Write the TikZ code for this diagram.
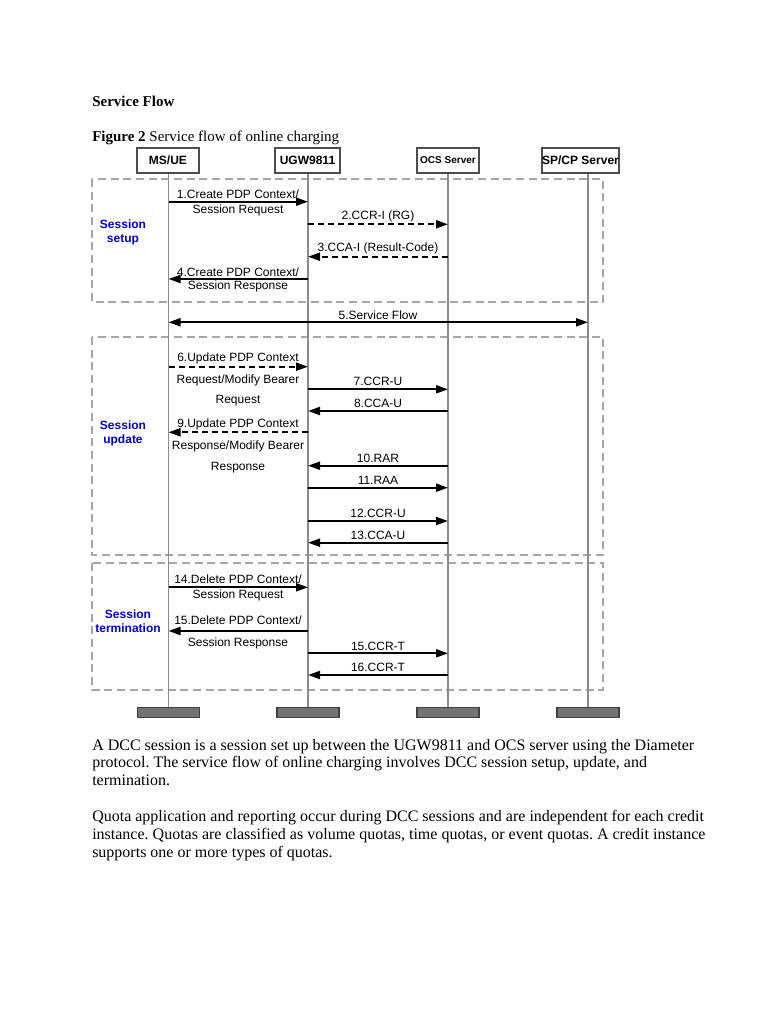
\documentclass[tikz,border=0pt]{standalone}
\usepackage{fontspec}
\setmainfont{Liberation Serif}
\setsansfont{Liberation Sans}
\usetikzlibrary{arrows.meta, positioning}
\frenchspacing

\begin{document}
\begin{tikzpicture}[x=0.75pt, y=-0.75pt,
    actor/.style={draw=black!70, line width=1.1pt, fill=white, minimum height=18.75pt, inner sep=0pt, font=\sffamily\bfseries\fontsize{9}{10}\selectfont},
    foot/.style={draw=black!75, fill=black!55, line width=0.8pt, minimum width=46.5pt, minimum height=7.5pt, inner sep=0pt},
    life/.style={draw=black!45, line width=1.1pt},
    frame/.style={draw=black!35, line width=1.1pt, dash pattern=on 6pt off 3.5pt},
    msg/.style={line width=1.5pt, -{Triangle[length=9pt,width=6pt]}},
    dmsg/.style={msg, dash pattern=on 4.5pt off 3pt},
    lbl/.style={font=\sffamily\fontsize{9}{10}\selectfont, inner sep=0pt, anchor=base},
    phase/.style={font=\sffamily\bfseries\fontsize{9}{10.5}\selectfont, text=blue!80!black, align=center, inner sep=0pt},
    body/.style={font=\fontsize{12}{14}\selectfont, anchor=base west, inner sep=0pt}]

\useasboundingbox[fill=white] (0,0) rectangle (768,1024);

\node[body, font=\bfseries\fontsize{11.25}{13}\selectfont] (title) at (92,106) {Service Flow};
\node[body, font=\fontsize{11.25}{13}\selectfont] (caption) at (92,142) {\textbf{Figure 2} Service flow of online charging};

\node[actor, minimum width=46.5pt] (ms) at (168,160.5) {MS/UE};
\node[actor, minimum width=48.75pt] (ugw) at (307.5,160.5) {UGW9811};
\node[actor, minimum width=46.5pt, font=\sffamily\bfseries\fontsize{7.5}{9}\selectfont] (ocs) at (448,160.5) {OCS Server};
\node[actor, minimum width=57.75pt] (sp) at (580.5,160.5) {SP/CP Server};

\node[foot] (msf) at (168.5,712.5) {};
\node[foot] (ugwf) at (308,712.5) {};
\node[foot] (ocsf) at (448,712.5) {};
\node[foot] (spf) at (588,712.5) {};

\draw[frame] (92,179) rectangle (603,302);
\draw[frame] (92,337) rectangle (603,555);
\draw[frame] (92,563) rectangle (603,690);

\draw[life] (msf.north |- ms.south) -- (msf.north);
\draw[life] (ugwf.north |- ugw.south) -- (ugwf.north);
\draw[life] (ocsf.north |- ocs.south) -- (ocsf.north);
\draw[life] (spf.north |- sp.south) -- (spf.north);

\node[phase] (setup) at (123,232) {Session\\setup};
\node[phase] (update) at (123,433) {Session\\update};
\node[phase] (term) at (128,621) {Session\\termination};

\draw[msg] (msf |- 0,201.7) -- (ugwf |- 0,201.7);
\draw[dmsg] (ugwf |- 0,224.3) -- (ocsf |- 0,224.3);
\draw[dmsg] (ocsf |- 0,256.7) -- (ugwf |- 0,256.7);
\draw[msg] (ugwf |- 0,279) -- (msf |- 0,279);
\draw[msg, {Triangle[length=9pt,width=6pt]}-{Triangle[length=9pt,width=6pt]}] (msf |- 0,322.3) -- (spf |- 0,322.3);
\draw[dmsg] (msf |- 0,366.7) -- (ugwf |- 0,366.7);
\draw[msg] (ugwf |- 0,389.3) -- (ocsf |- 0,389.3);
\draw[msg] (ocsf |- 0,411) -- (ugwf |- 0,411);
\draw[dmsg] (ugwf |- 0,432.3) -- (msf |- 0,432.3);
\draw[msg] (ocsf |- 0,465.7) -- (ugwf |- 0,465.7);
\draw[msg] (ugwf |- 0,487.7) -- (ocsf |- 0,487.7);
\draw[msg] (ugwf |- 0,521) -- (ocsf |- 0,521);
\draw[msg] (ocsf |- 0,542.7) -- (ugwf |- 0,542.7);
\draw[msg] (msf |- 0,587.3) -- (ugwf |- 0,587.3);
\draw[msg] (ugwf |- 0,631) -- (msf |- 0,631);
\draw[msg] (ugwf |- 0,653.3) -- (ocsf |- 0,653.3);
\draw[msg] (ocsf |- 0,675) -- (ugwf |- 0,675);

\node[lbl] (m1) at (238,198.5) {1.Create PDP Context/};
\node[lbl] (m1b) at (238,213) {Session Request};
\node[lbl] (m2) at (378,219.5) {2.CCR-I (RG)};
\node[lbl] (m3) at (378,251) {3.CCA-I (Result-Code)};
\node[lbl] (m4) at (238,276) {4.Create PDP Context/};
\node[lbl] (m4b) at (238,289.5) {Session Response};
\node[lbl] (m5) at (378,319.5) {5.Service Flow};
\node[lbl] (m6) at (238,361.5) {6.Update PDP Context};
\node[lbl] (m6b) at (238,383) {Request/Modify Bearer};
\node[lbl] (m6c) at (238,403.5) {Request};
\node[lbl] (m7) at (378,385) {7.CCR-U};
\node[lbl] (m8) at (378,407) {8.CCA-U};
\node[lbl] (m9) at (238,427.5) {9.Update PDP Context};
\node[lbl] (m9b) at (238,449) {Response/Modify Bearer};
\node[lbl] (m9c) at (238,470) {Response};
\node[lbl] (m10) at (378,462.5) {10.RAR};
\node[lbl] (m11) at (378,484.5) {11.RAA};
\node[lbl] (m12) at (378,517) {12.CCR-U};
\node[lbl] (m13) at (378,539) {13.CCA-U};
\node[lbl] (m14) at (238,583.5) {14.Delete PDP Context/};
\node[lbl] (m14b) at (238,598.5) {Session Request};
\node[lbl] (m15) at (238,624.5) {15.Delete PDP Context/};
\node[lbl] (m15b) at (238,646.5) {Session Response};
\node[lbl] (m15c) at (378,650) {15.CCR-T};
\node[lbl] (m16) at (378,671) {16.CCR-T};

\node[body] (p1a) at (92,750) {A DCC session is a session set up between the UGW9811 and OCS server using the Diameter};
\node[body] (p1b) at (92,767.5) {protocol. The service flow of online charging involves DCC session setup, update, and};
\node[body] (p1c) at (92,785) {termination.};
\node[body] (p2a) at (92,821) {Quota application and reporting occur during DCC sessions and are independent for each credit};
\node[body] (p2b) at (92,839) {instance. Quotas are classified as volume quotas, time quotas, or event quotas. A credit instance};
\node[body] (p2c) at (92,857) {supports one or more types of quotas.};
\end{tikzpicture}
\end{document}
